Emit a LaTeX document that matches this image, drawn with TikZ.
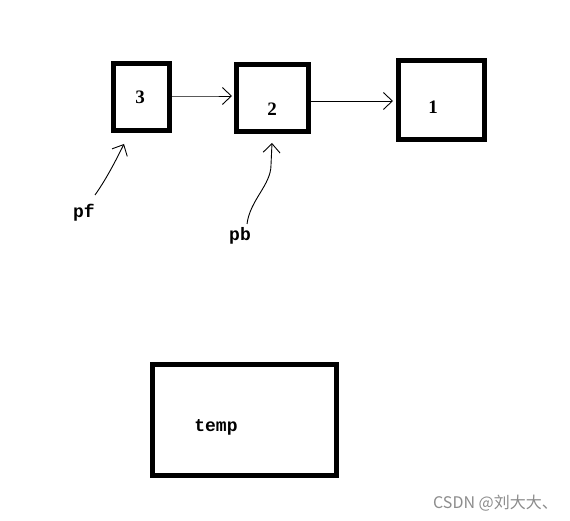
\documentclass[tikz,border=0pt]{standalone}
\usepackage{fontspec}
\setmainfont{Liberation Serif}
\newfontfamily\monofnt{Liberation Mono}
\newfontfamily\cjkfnt{Noto Sans CJK SC}
\usetikzlibrary{arrows.meta}
\begin{document}
\begin{tikzpicture}[x=1pt,y=-1pt,
  box/.style={draw=black,line width=5pt},
  digit/.style={font=\fontsize{19}{19}\selectfont\bfseries},
  lbl/.style={font=\fontsize{18}{18}\selectfont\monofnt\bfseries},
  link/.style={line width=0.9pt,-{Straight Barb[length=9pt,width=17pt,line width=0.9pt]}}]
\useasboundingbox (0,0) rectangle (570,521);
\fill[white] (0,0) rectangle (570,521);
% boxes
\draw[box] (113.5,63.5) rectangle (169.5,130.5);
\draw[box] (236.5,64.5) rectangle (308.5,131.5);
\draw[box] (398.5,60.5) rectangle (484.5,139.5);
\draw[box] (152.5,364.5) rectangle (336.5,475.5);
% anchors for boxes
\coordinate (b3e) at (172,96);
\coordinate (b2w) at (232,96);
\coordinate (b2e) at (311,101);
\coordinate (b1w) at (393,101);
\coordinate (b3s) at (124,144);
\coordinate (b2s) at (272,143);
% texts
\node[digit] (t3) at (140,97) {3};
\node[digit] (t2) at (272,109) {2};
\node[digit] (t1) at (433,107) {1};
\node[lbl] (pf) at (84,213) {pf};
\node[lbl] (pb) at (240,236) {pb};
\node[lbl] (tmp) at (216,427) {temp};
\node[font=\fontsize{16}{16}\selectfont\cjkfnt,text=black!45,anchor=east,inner sep=0pt] (wm) at (558,503) {CSDN @刘大大、};
% connectors
\coordinate (pft) at (95,195);
\coordinate (pbt) at (247,224);
\draw[link] (b3e) -- (207,96) -- (b2w);
\draw[link] (b2e) -- (b1w);
\draw[link] (pft) .. controls (107,178) and (116,160) .. (b3s);
\draw[link] (pbt) .. controls (250,200) and (271,185) .. (271,165) -- (b2s);
\end{tikzpicture}
\end{document}
